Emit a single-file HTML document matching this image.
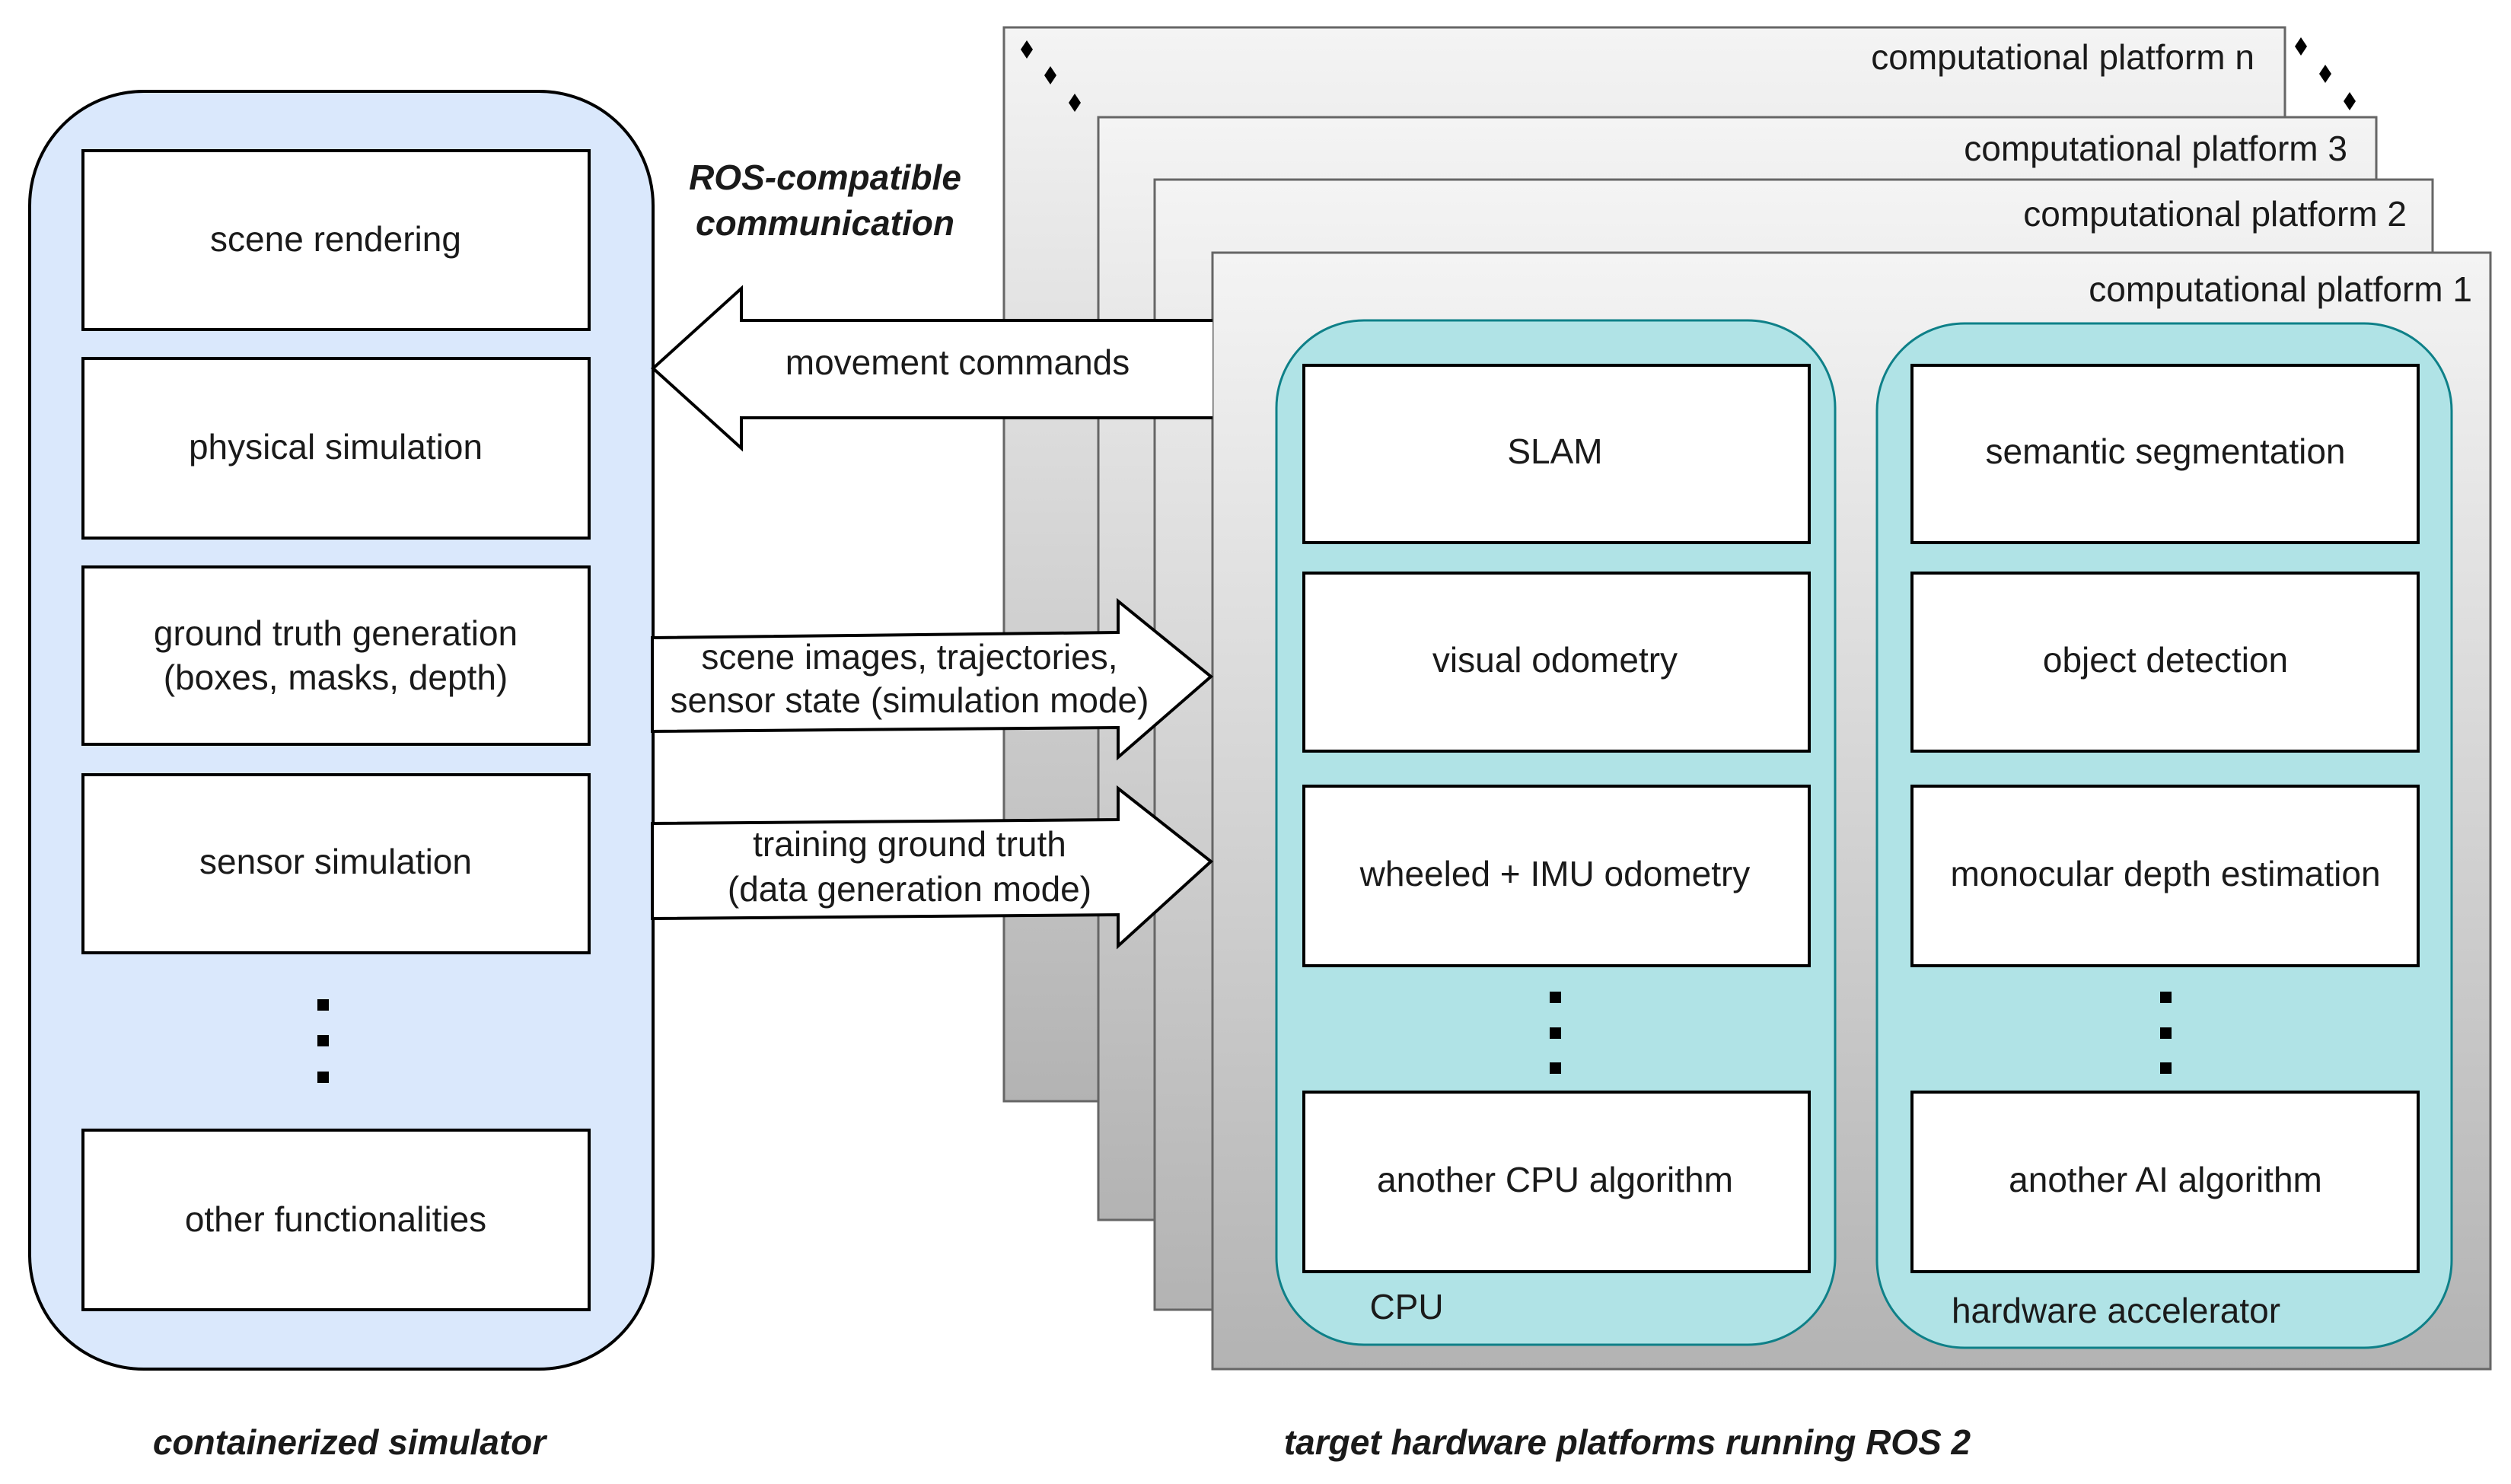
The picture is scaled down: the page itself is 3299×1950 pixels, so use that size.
<!DOCTYPE html>
<html><head><meta charset="utf-8"><style>
html,body{margin:0;padding:0;background:#fff;}
svg{display:block;}
text{font-family:"Liberation Sans",Arial,sans-serif;fill:#1a1a1a;}
</style></head><body>
<svg width="3299" height="1950" viewBox="0 0 3299 1950" xmlns="http://www.w3.org/2000/svg">
<defs>
<linearGradient id="g" x1="0" y1="0" x2="0" y2="1">
<stop offset="0" stop-color="#f4f4f4"/><stop offset="1" stop-color="#b3b3b3"/>
</linearGradient>
</defs>
<rect x="0" y="0" width="3299" height="1950" fill="#fff"/>

<rect x="39" y="120" width="819" height="1679" rx="150" ry="150" fill="#dae8fc" stroke="#000" stroke-width="4"/>
<g fill="#fff" stroke="#000" stroke-width="4">
<rect x="109" y="198" width="665" height="235"/>
<rect x="109" y="471" width="665" height="236"/>
<rect x="109" y="745" width="665" height="233"/>
<rect x="109" y="1018" width="665" height="234"/>
<rect x="109" y="1485" width="665" height="236"/>
</g>
<g font-size="46" text-anchor="middle">
<text x="441" y="330">scene rendering</text>
<text x="441" y="603">physical simulation</text>
<text x="441" y="848">ground truth generation</text>
<text x="441" y="906">(boxes, masks, depth)</text>
<text x="441" y="1148">sensor simulation</text>
<text x="441" y="1618">other functionalities</text>
</g>
<g fill="#000">
<rect x="417" y="1313" width="15" height="15"/>
<rect x="417" y="1360" width="15" height="15"/>
<rect x="417" y="1408" width="15" height="15"/>
</g>

<g stroke="#666" stroke-width="3" fill="url(#g)">
<rect x="1319" y="36" width="1683" height="1411"/>
<rect x="1443" y="154" width="1679" height="1449"/>
<rect x="1517" y="236" width="1679" height="1485"/>
<rect x="1593" y="332" width="1679" height="1467"/>
</g>
<g font-size="46" text-anchor="end">
<text x="2962" y="91">computational platform n</text>
<text x="3084" y="211">computational platform 3</text>
<text x="3162" y="297">computational platform 2</text>
<text x="3248" y="396">computational platform 1</text>
</g>
<g fill="#000">
<path d="M1349 53 l8 12 -8 12 -8 -12z"/>
<path d="M1380 87 l8 12 -8 12 -8 -12z"/>
<path d="M1412 123 l8 12 -8 12 -8 -12z"/>
<path d="M3023 49 l8 12 -8 12 -8 -12z"/>
<path d="M3055 85 l8 12 -8 12 -8 -12z"/>
<path d="M3087 121 l8 12 -8 12 -8 -12z"/>
</g>

<rect x="1677" y="421" width="734" height="1346" rx="115" ry="115" fill="#b0e3e6" stroke="#0e8088" stroke-width="3"/>
<rect x="2466" y="425" width="755" height="1346" rx="115" ry="115" fill="#b0e3e6" stroke="#0e8088" stroke-width="3"/>
<g fill="#fff" stroke="#000" stroke-width="4">
<rect x="1713" y="480" width="664" height="233"/>
<rect x="1713" y="753" width="664" height="234"/>
<rect x="1713" y="1033" width="664" height="236"/>
<rect x="1713" y="1435" width="664" height="236"/>
<rect x="2512" y="480" width="665" height="233"/>
<rect x="2512" y="753" width="665" height="234"/>
<rect x="2512" y="1033" width="665" height="236"/>
<rect x="2512" y="1435" width="665" height="236"/>
</g>
<g font-size="46" text-anchor="middle">
<text x="2043" y="609">SLAM</text>
<text x="2043" y="883">visual odometry</text>
<text x="2043" y="1164">wheeled + IMU odometry</text>
<text x="2043" y="1566">another CPU algorithm</text>
<text x="2845" y="609">semantic segmentation</text>
<text x="2845" y="883">object detection</text>
<text x="2845" y="1164">monocular depth estimation</text>
<text x="2845" y="1566">another AI algorithm</text>
<text x="1848" y="1733">CPU</text>
<text x="2780" y="1738">hardware accelerator</text>
</g>
<g fill="#000">
<rect x="2036" y="1303" width="15" height="15"/>
<rect x="2036" y="1350" width="15" height="15"/>
<rect x="2036" y="1396" width="15" height="15"/>
<rect x="2838" y="1303" width="15" height="15"/>
<rect x="2838" y="1350" width="15" height="15"/>
<rect x="2838" y="1396" width="15" height="15"/>
</g>

<g fill="#fff" stroke="#000" stroke-width="4" stroke-linejoin="miter">
<path d="M1593 421 L974 421 L974 379 L858 484 L974 589 L974 549 L1593 549"/>
<path d="M857 838 L1469 831 L1469 790 L1591 889 L1469 995 L1469 956 L857 961 Z"/>
<path d="M857 1082 L1469 1077 L1469 1036 L1591 1132 L1469 1243 L1469 1202 L857 1207 Z"/>
</g>
<g font-size="46" text-anchor="middle">
<text x="1258" y="492">movement commands</text>
<text x="1195" y="879">scene images, trajectories,</text>
<text x="1195" y="936">sensor state (simulation mode)</text>
<text x="1195" y="1125">training ground truth</text>
<text x="1195" y="1184">(data generation mode)</text>
</g>

<g font-size="46" font-weight="bold" font-style="italic" text-anchor="middle">
<text x="1084" y="249">ROS-compatible</text>
<text x="1084" y="309">communication</text>
<text x="459" y="1911">containerized simulator</text>
<text x="2138" y="1911">target hardware platforms running ROS 2</text>
</g>
</svg>
</body></html>
